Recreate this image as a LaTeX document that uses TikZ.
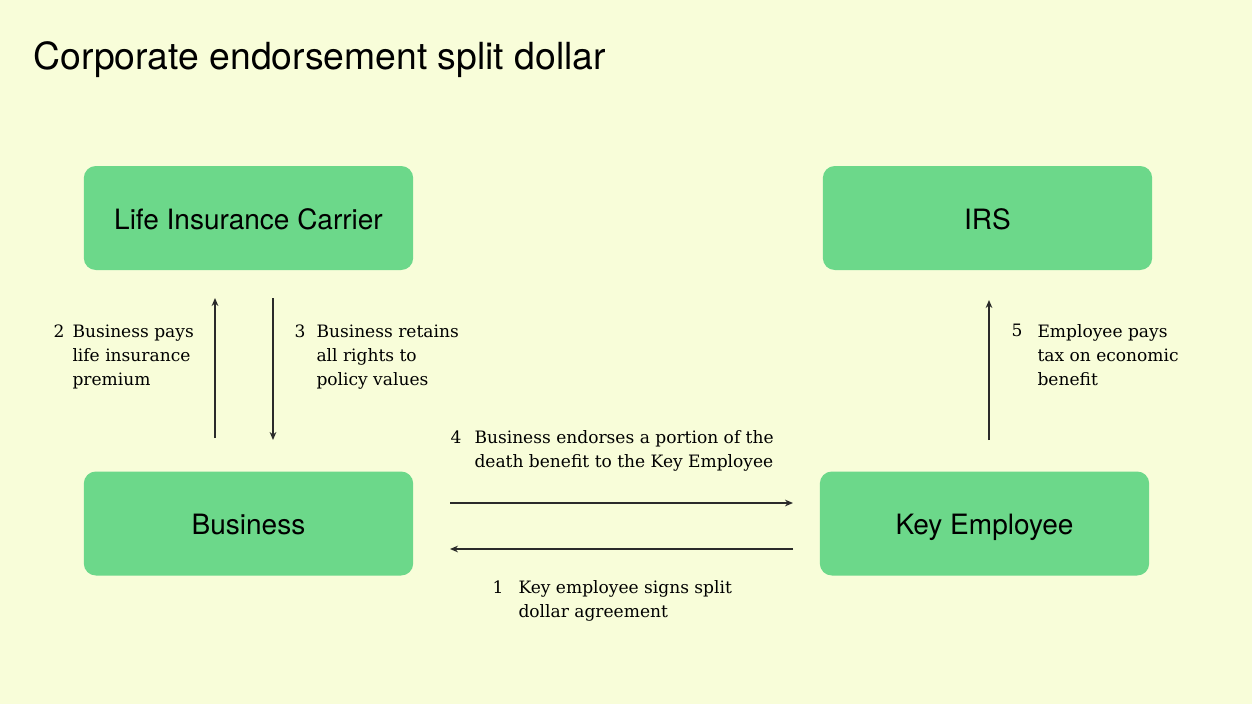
\documentclass[tikz,border=0pt]{standalone}
\usepackage{fontspec}
\setmainfont{DejaVu Serif}
\setsansfont{TeX Gyre Heros}
\usetikzlibrary{arrows.meta}
\definecolor{bg}{HTML}{F8FDD9}
\definecolor{boxgreen}{HTML}{6CD88A}
\definecolor{ink}{HTML}{2B2B2B}
\tikzset{every picture/.style={line width=0.75pt},
  party/.style={fill=boxgreen, rounded corners=9pt, minimum width=247pt, minimum height=78pt, inner sep=0pt, text height=17pt, text depth=0pt, font=\sffamily\fontsize{21}{24}\selectfont, text=black},
  flow/.style={draw=ink, line width=1.2pt, -{Stealth[length=6pt,width=5pt]}},
  stepnum/.style={anchor=north west, inner sep=0pt, font=\fontsize{12.8}{18}\selectfont, text=black},
  steptext/.style={anchor=north west, inner sep=0pt, align=left, font=\fontsize{12.8}{18}\selectfont, text=black}}
\begin{document}
\begin{tikzpicture}[x=0.75pt,y=0.75pt,yscale=-1,xscale=1]
\fill[bg] (0,0) rectangle (1252,704);
\useasboundingbox (0,0) rectangle (1252,704);

% Title
\node[anchor=west, inner sep=0pt, font=\sffamily\fontsize{28}{32}\selectfont] (title) at (33,60) {Corporate endorsement split dollar};

% Parties
\node[party] (carrier) at (248.5,218) {Life Insurance Carrier};
\node[party] (irs) at (987.5,218) {IRS};
\node[party] (business) at (248.5,523.5) {Business};
\node[party] (employee) at (984.5,523.5) {Key Employee};

% Connector ends
\coordinate (c2a) at (215,438); \coordinate (c2b) at (215,298);
\coordinate (c3a) at (273,298); \coordinate (c3b) at (273,440);
\coordinate (c4a) at (450,503); \coordinate (c4b) at (793,503);
\coordinate (c1a) at (793,549); \coordinate (c1b) at (450,549);
\coordinate (c5a) at (989,440); \coordinate (c5b) at (989,300);

\draw[flow] (c2a) -- (c2b);
\draw[flow] (c3a) -- (c3b);
\draw[flow] (c4a) -- (c4b);
\draw[flow] (c1a) -- (c1b);
\draw[flow] (c5a) -- (c5b);

% Step labels
\node[stepnum] (n2) at (53,324) {2};
\node[steptext] (t2) at (72,324) {Business pays\\life insurance\\premium};
\node[stepnum] (n3) at (294,324) {3};
\node[steptext] (t3) at (316,324) {Business retains\\all rights to\\policy values};
\node[stepnum] (n4) at (450,430) {4};
\node[steptext] (t4) at (474,430) {Business endorses a portion of the\\death benefit to the Key Employee};
\node[stepnum] (n1) at (492,580) {1};
\node[steptext] (t1) at (518,580) {Key employee signs split\\dollar agreement};
\node[stepnum] (n5) at (1011,324) {5};
\node[steptext] (t5) at (1037,324) {Employee pays\\tax on economic\\benefit};
\end{tikzpicture}
\end{document}
